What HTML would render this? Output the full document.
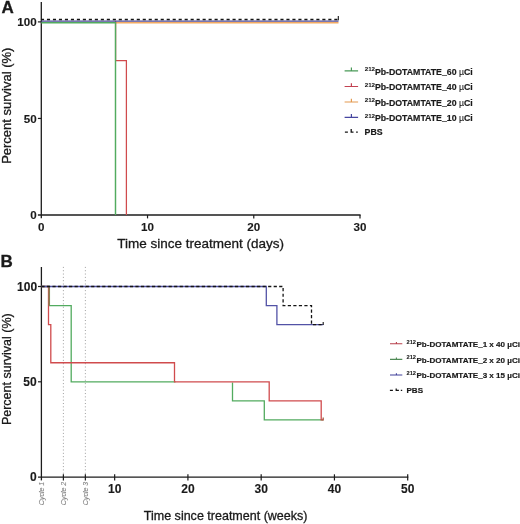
<!DOCTYPE html>
<html><head><meta charset="utf-8"><title>Survival curves</title>
<style>
html,body{margin:0;padding:0;background:#fff;}
body{width:520px;height:524px;overflow:hidden;}
svg{display:block;}
svg text{font-family:"Liberation Sans", Arial, sans-serif;fill:#1a1a1a;stroke:#1a1a1a;stroke-width:0.3px;}
svg text.s{stroke-width:0.05px;}
svg text.l{stroke-width:0.18px;}
svg .t text{stroke-width:0.12px;}
svg .m{font-weight:normal;stroke-width:0.1px;}
svg text.c{stroke:#858585;stroke-width:0.12px;fill:#858585;}
</style></head><body>
<svg width="520" height="524" viewBox="0 0 520 524">
<rect width="520" height="524" fill="#fff"/>
<text transform="translate(1.4 13.0) scale(1.05 1)" font-size="16.2" font-weight="bold">A</text>
<path d="M41.3 2 L41.3 218.2" stroke="#1c1c1c" stroke-width="1.3" fill="none"/>
<path d="M37.9 215 L360.6 215" stroke="#1c1c1c" stroke-width="1.3" fill="none"/>
<path d="M37.9 21.9 L41.3 21.9" stroke="#1c1c1c" stroke-width="1.2" fill="none"/>
<path d="M37.9 118.45 L41.3 118.45" stroke="#1c1c1c" stroke-width="1.2" fill="none"/>
<path d="M147.53 215 L147.53 218.4" stroke="#1c1c1c" stroke-width="1.2" fill="none"/>
<path d="M253.77 215 L253.77 218.4" stroke="#1c1c1c" stroke-width="1.2" fill="none"/>
<path d="M360 215 L360 218.4" stroke="#1c1c1c" stroke-width="1.2" fill="none"/>
<g class="t" font-size="11.6" font-weight="bold" text-anchor="end">
<text x="36.7" y="26.4">100</text>
<text x="36.7" y="123">50</text>
<text x="36.7" y="219.2">0</text>
</g>
<g class="t" font-size="11.6" font-weight="bold" text-anchor="middle">
<text x="41.3" y="231.3">0</text>
<text x="147.53" y="231.3">10</text>
<text x="253.77" y="231.3">20</text>
<text x="360" y="231.3">30</text>
</g>
<text x="117.2" y="247.8" font-size="13.5">Time since treatment (days)</text>
<text transform="translate(10.6 105.7) rotate(-90)" font-size="13" text-anchor="middle">Percent survival (%)</text>
<path d="M115 22.8 L338.5 22.8" stroke="#f2aa62" stroke-width="1.4" fill="none"/>
<path d="M115.6 21 L115.6 60.52 L126.4 60.52 L126.4 215" stroke="#d04b4d" stroke-width="1.25" fill="none"/>
<path d="M41.3 21 L338.5 21" stroke="#4c4898" stroke-width="1.25" fill="none"/>
<path d="M41.3 22.75 L115.5 22.75 L115.5 215" stroke="#52ab5f" stroke-width="1.45" fill="none"/>
<path d="M40.95 19.5 L338.5 19.5" stroke="#141414" stroke-width="1.4" fill="none" stroke-dasharray="3.1 2.887"/>
<path d="M338.3 16 L338.3 20.2" stroke="#141414" stroke-width="1.1" fill="none"/>
<path d="M344.6 70.9 H358.1 M351.4 70.9 V67.6" stroke="#4a9a58" stroke-width="1.2" fill="none"/>
<text class="s" x="364.7" y="71.2" font-size="6.2" font-weight="bold">212</text>
<text x="374.9" y="74.8" class="l" font-size="8.75" font-weight="bold">Pb-DOTAMTATE_60 <tspan class="m">µ</tspan>Ci</text>
<path d="M344.6 86.5 H358.1 M351.4 86.5 V83.2" stroke="#c24252" stroke-width="1.2" fill="none"/>
<text class="s" x="364.7" y="86.8" font-size="6.2" font-weight="bold">212</text>
<text x="374.9" y="90.4" class="l" font-size="8.75" font-weight="bold">Pb-DOTAMTATE_40 <tspan class="m">µ</tspan>Ci</text>
<path d="M344.6 102 H358.1 M351.4 102 V98.7" stroke="#e39a50" stroke-width="1.2" fill="none"/>
<text class="s" x="364.7" y="102.3" font-size="6.2" font-weight="bold">212</text>
<text x="374.9" y="105.9" class="l" font-size="8.75" font-weight="bold">Pb-DOTAMTATE_20 <tspan class="m">µ</tspan>Ci</text>
<path d="M344.6 117.4 H358.1 M351.4 117.4 V114.1" stroke="#4646a0" stroke-width="1.2" fill="none"/>
<text class="s" x="364.7" y="117.7" font-size="6.2" font-weight="bold">212</text>
<text x="374.9" y="121.3" class="l" font-size="8.75" font-weight="bold">Pb-DOTAMTATE_10 <tspan class="m">µ</tspan>Ci</text>
<path d="M344.9 132.1 H347.9 M351.2 129 V132.1 H353.5 M356.1 132.1 H357.8" stroke="#141414" stroke-width="1.3" fill="none"/>
<text x="364.6" y="134.9" class="l" font-size="8.75" font-weight="bold">PBS</text>
<text transform="translate(0.4 266.8) scale(1.05 1)" font-size="16.2" font-weight="bold">B</text>
<path d="M63.38 266.9 L63.38 476.1" stroke="#9e9e9e" stroke-width="1.0" fill="none" stroke-dasharray="1 2.32"/>
<path d="M85.36 266.9 L85.36 476.1" stroke="#9e9e9e" stroke-width="1.0" fill="none" stroke-dasharray="1 2.32"/>
<path d="M41.4 267 L41.4 480.4" stroke="#1c1c1c" stroke-width="1.3" fill="none"/>
<path d="M38 477.1 L408.3 477.1" stroke="#1c1c1c" stroke-width="1.3" fill="none"/>
<path d="M38 286.5 L41.4 286.5" stroke="#1c1c1c" stroke-width="1.2" fill="none"/>
<path d="M38 381.8 L41.4 381.8" stroke="#1c1c1c" stroke-width="1.2" fill="none"/>
<path d="M63.38 474.3 L63.38 480.5" stroke="#1c1c1c" stroke-width="1.2" fill="none"/>
<path d="M85.36 474.3 L85.36 480.5" stroke="#1c1c1c" stroke-width="1.2" fill="none"/>
<path d="M114.66 474.3 L114.66 480.5" stroke="#1c1c1c" stroke-width="1.2" fill="none"/>
<path d="M187.92 474.3 L187.92 480.5" stroke="#1c1c1c" stroke-width="1.2" fill="none"/>
<path d="M261.18 474.3 L261.18 480.5" stroke="#1c1c1c" stroke-width="1.2" fill="none"/>
<path d="M334.44 474.3 L334.44 480.5" stroke="#1c1c1c" stroke-width="1.2" fill="none"/>
<path d="M407.7 474.3 L407.7 480.5" stroke="#1c1c1c" stroke-width="1.2" fill="none"/>
<g class="t" font-size="12" font-weight="bold" text-anchor="end">
<text x="37.1" y="290.6">100</text>
<text x="36.6" y="385.8">50</text>
<text x="36.6" y="481.3">0</text>
</g>
<g class="t" font-size="12" font-weight="bold" text-anchor="middle">
<text x="114.66" y="493.1">10</text>
<text x="187.92" y="493.1">20</text>
<text x="261.18" y="493.1">30</text>
<text x="334.44" y="493.1">40</text>
<text x="407.7" y="493.1">50</text>
</g>
<text class="c" transform="translate(43.9 481.8) rotate(-90)" font-size="7" font-style="italic" fill="#8f8f8f" text-anchor="end">Cycle 1</text>
<text class="c" transform="translate(65.88 481.8) rotate(-90)" font-size="7" font-style="italic" fill="#8f8f8f" text-anchor="end">Cycle 2</text>
<text class="c" transform="translate(87.86 481.8) rotate(-90)" font-size="7" font-style="italic" fill="#8f8f8f" text-anchor="end">Cycle 3</text>
<text x="143.8" y="520.2" font-size="12.52">Time since treatment (weeks)</text>
<text transform="translate(11.2 369.2) rotate(-90)" font-size="12.5" text-anchor="middle">Percent survival (%)</text>
<path d="M41.4 286.5 L49.4 286.5 L49.4 305.56 L71.2 305.56 L71.2 381.8 L175.5 381.8" stroke="#52ab5f" stroke-width="1.3" fill="none"/>
<path d="M232.5 382.4 L232.5 400.86 L264.3 400.86 L264.3 419.92 L323.2 419.92" stroke="#52ab5f" stroke-width="1.3" fill="none"/>
<path d="M323.2 420.42 L323.2 417.62" stroke="#52ab5f" stroke-width="1.0" fill="none"/>
<path d="M41.4 286.5 L48.5 286.5 L48.5 324.62 L50.8 324.62 L50.8 362.74 L174.5 362.74 L174.5 381.8 L269.2 381.8 L269.2 400.86 L321.2 400.86 L321.2 419.92 L323.2 419.92" stroke="#d04b4d" stroke-width="1.3" fill="none"/>
<path d="M323.2 420.42 L323.2 417.62" stroke="#d04b4d" stroke-width="1.0" fill="none"/>
<path d="M48.95 287.1 L48.95 305.56" stroke="#9b7350" stroke-width="1.5" fill="none"/>
<path d="M41.4 286.5 L266.3 286.5 L266.3 305.56 L276.9 305.56 L276.9 324.62 L323.2 324.62" stroke="#5252a6" stroke-width="1.3" fill="none"/>
<path d="M41.4 286.5 L283.1 286.5 L283.1 305.56 L311.5 305.56 L311.5 324.62 L323.2 324.62" stroke="#141414" stroke-width="1.3" fill="none" stroke-dasharray="3.2 2.33"/>
<path d="M323.2 325.12 L323.2 322.12" stroke="#141414" stroke-width="1.1" fill="none"/>
<path d="M390 343.8 H402.3 M396.4 343.8 V342" stroke="#b8404c" stroke-width="1.1" fill="none"/>
<text class="s" x="406.5" y="343.6" font-size="5.7" font-weight="bold">212</text>
<text x="416.5" y="347" class="l" font-size="8.05" font-weight="bold">Pb-DOTAMTATE_1 x 40 µCi</text>
<path d="M390 359.4 H402.3 M396.4 359.4 V357.6" stroke="#4f8a55" stroke-width="1.1" fill="none"/>
<text class="s" x="406.5" y="359.2" font-size="5.7" font-weight="bold">212</text>
<text x="416.5" y="362.6" class="l" font-size="8.05" font-weight="bold">Pb-DOTAMTATE_2 x 20 µCi</text>
<path d="M390 375 H402.3 M396.4 375 V373.2" stroke="#40409a" stroke-width="1.1" fill="none"/>
<text class="s" x="406.5" y="374.8" font-size="5.7" font-weight="bold">212</text>
<text x="416.5" y="378.2" class="l" font-size="8.05" font-weight="bold">Pb-DOTAMTATE_3 x 15 µCi</text>
<path d="M389.9 390.4 H392.9 M396.2 388.5 V390.4 H398.9 M400.8 390.4 H402.2" stroke="#141414" stroke-width="1.25" fill="none"/>
<text x="406.5" y="393.1" class="l" font-size="8.05" font-weight="bold">PBS</text>
</svg>
</body></html>
